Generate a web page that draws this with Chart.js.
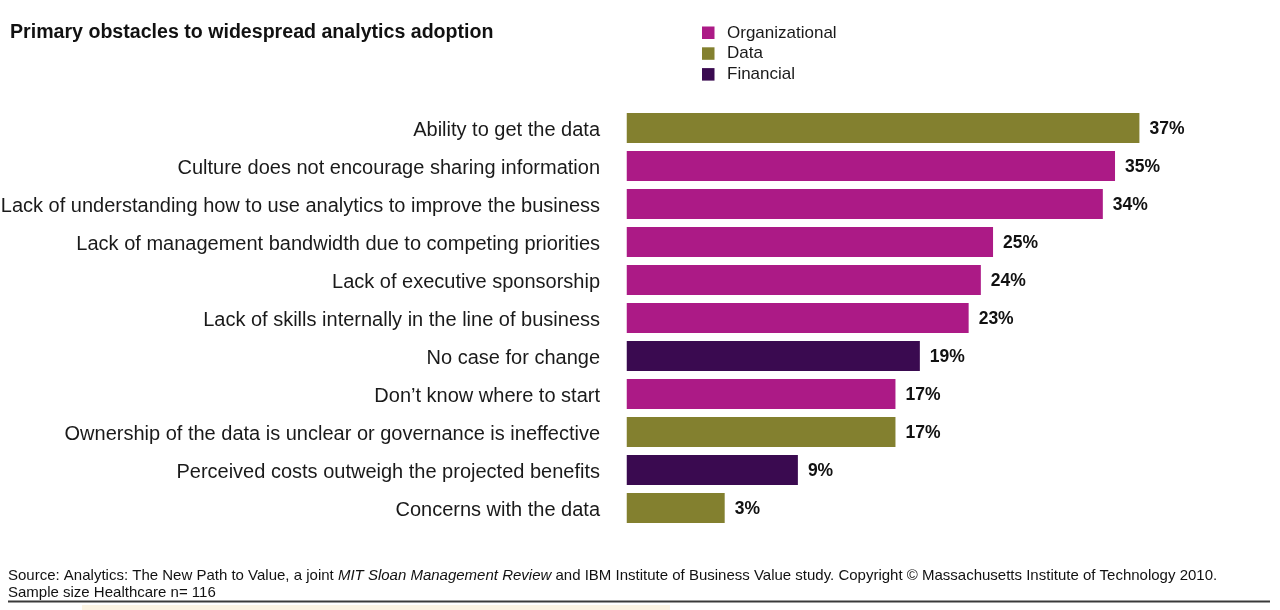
<!DOCTYPE html>
<html>
<head>
<meta charset="utf-8">
<script src="https://cdn.jsdelivr.net/npm/chart.js@4.4.1/dist/chart.umd.min.js"></script>
<style>
  html, body { margin: 0; padding: 0; background: #ffffff; }
  #wrap { position: relative; width: 1280px; height: 610px; }
</style>
</head>
<body>
<div id="wrap"><canvas id="c"></canvas></div>
<script>
const chartTitle = "Primary obstacles to widespread analytics adoption";
const categories = [
  "Ability to get the data",
  "Culture does not encourage sharing information",
  "Lack of understanding how to use analytics to improve the business",
  "Lack of management bandwidth due to competing priorities",
  "Lack of executive sponsorship",
  "Lack of skills internally in the line of business",
  "No case for change",
  "Don\u2019t know where to start",
  "Ownership of the data is unclear or governance is ineffective",
  "Perceived costs outweigh the projected benefits",
  "Concerns with the data"
];
const values = [37, 35, 34, 25, 24, 23, 19, 17, 17, 9, 3];
const groups = ["Data", "Organizational", "Organizational", "Organizational", "Organizational",
  "Organizational", "Financial", "Organizational", "Data", "Financial", "Data"];
const groupNames = ["Organizational", "Data", "Financial"];
const groupColors = ["#ac1a86", "#83802f", "#3a0a50"];
const footerLine1a = "Source: Analytics: The New Path to Value, a joint ";
const footerItalic = "MIT Sloan Management Review";
const footerLine1b = " and IBM Institute of Business Value study. Copyright \u00a9 Massachusetts Institute of Technology 2010.";
const footerLine2 = "Sample size Healthcare n= 116";

const X_MIN = -5.05;
const X_MAX = 45;

const datasets = groupNames.map((g, gi) => ({
  label: g,
  data: values.map((v, i) => groups[i] === g ? v : null),
  backgroundColor: groupColors[gi],
  borderWidth: 0,
  base: X_MIN,
  grouped: false,
  barPercentage: 0.79,
  categoryPercentage: 1.0
}));

const FONT = "'Liberation Sans', Arial, Helvetica, sans-serif";

const valueLabels = {
  id: 'valueLabels',
  afterDatasetsDraw(chart) {
    const ctx = chart.ctx;
    ctx.save();
    ctx.font = "bold 17.5px " + FONT;
    ctx.fillStyle = "#111111";
    ctx.textAlign = "left";
    ctx.textBaseline = "middle";
    chart.data.datasets.forEach((ds, di) => {
      const meta = chart.getDatasetMeta(di);
      meta.data.forEach((el, i) => {
        const v = ds.data[i];
        if (v === null || v === undefined) return;
        ctx.fillText(v + "%", el.x + 10, el.y + 1);
      });
    });
    ctx.restore();
  }
};

const decorations = {
  id: 'decorations',
  afterDraw(chart) {
    const ctx = chart.ctx;
    ctx.save();
    // Title
    ctx.fillStyle = "#111111";
    ctx.textBaseline = "middle";
    ctx.textAlign = "left";
    ctx.font = "bold 19.6px " + FONT;
    ctx.fillText(chartTitle, 10, 33);
    // Legend
    ctx.font = "17px " + FONT;
    groupNames.forEach((g, i) => {
      const cy = 32.5 + i * 20.8;
      ctx.fillStyle = groupColors[i];
      ctx.fillRect(702, cy - 6, 12.5, 12.5);
      ctx.fillStyle = "#1a1a1a";
      ctx.fillText(g, 727, cy + 0.5);
    });
    // Footer
    ctx.fillStyle = "#111111";
    ctx.font = "15px " + FONT;
    let x = 8;
    ctx.fillText(footerLine1a, x, 576);
    x += ctx.measureText(footerLine1a).width;
    ctx.font = "italic 15px " + FONT;
    ctx.fillText(footerItalic, x, 576);
    x += ctx.measureText(footerItalic).width;
    ctx.font = "15px " + FONT;
    ctx.fillText(footerLine1b, x, 576);
    ctx.fillText(footerLine2, 8, 593);
    // Rule
    ctx.fillStyle = "#3a3a3a";
    ctx.fillRect(8, 600.5, 1262, 2);
    ctx.fillStyle = "#fbf3e2";
    ctx.fillRect(82, 605, 588, 5);
    ctx.restore();
  }
};

new Chart(document.getElementById('c'), {
  type: 'bar',
  data: { labels: categories, datasets: datasets },
  options: {
    indexAxis: 'y',
    responsive: true,
    maintainAspectRatio: false,
    animation: false,
    devicePixelRatio: 1,
    layout: { padding: { top: 109, bottom: 83, left: 0, right: 43 } },
    plugins: {
      legend: { display: false },
      title: { display: false },
      tooltip: { enabled: false }
    },
    scales: {
      x: { display: false, min: X_MIN, max: X_MAX },
      y: {
        grid: { display: false, drawTicks: false },
        border: { display: false },
        ticks: {
          color: "#1a1a1a",
          padding: 26.5,
          labelOffset: 2,
          font: { family: FONT, size: 20 }
        },
        afterFit(scale) { scale.width = 626.5; }
      }
    }
  },
  plugins: [valueLabels, decorations]
});
</script>
</body>
</html>
